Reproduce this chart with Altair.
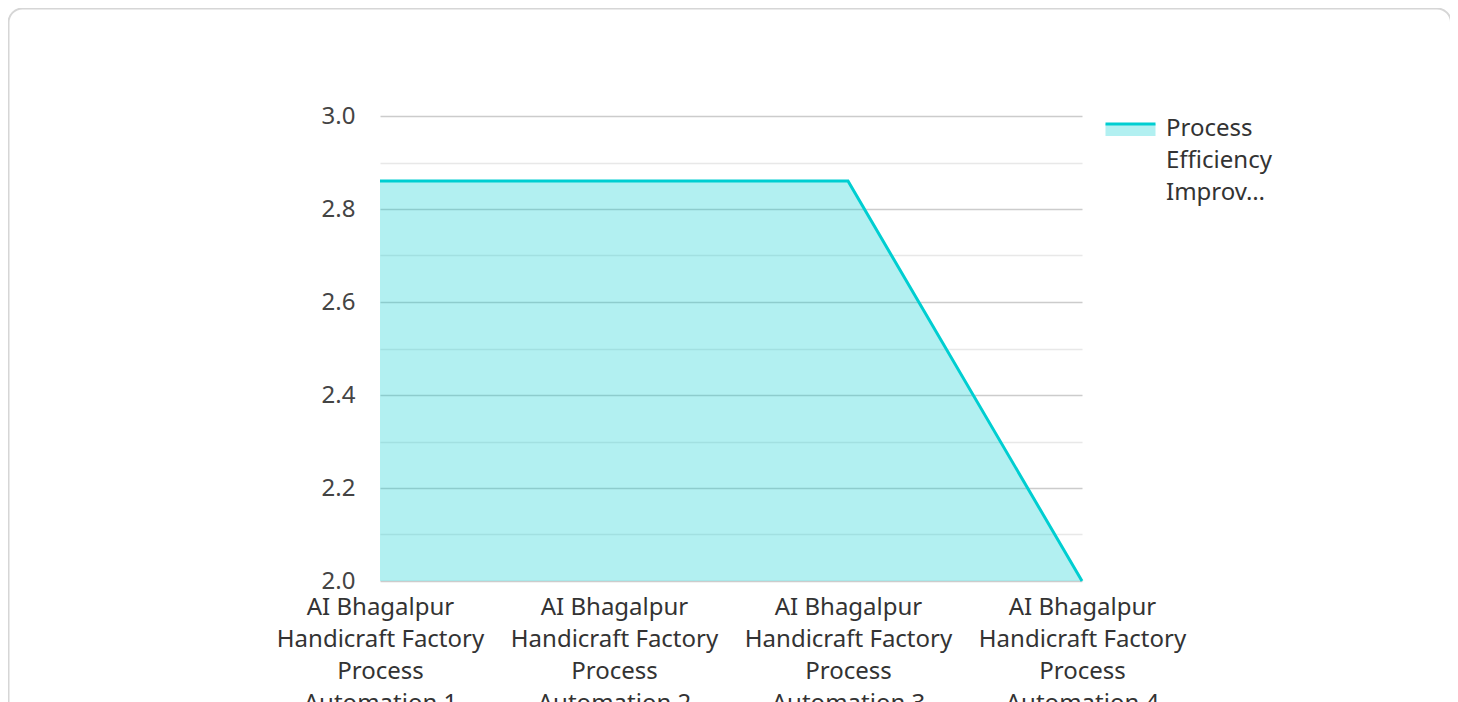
import altair as alt
import pandas as pd

categories = [
    "AI Bhagalpur Handicraft Factory Process Automation 1",
    "AI Bhagalpur Handicraft Factory Process Automation 2",
    "AI Bhagalpur Handicraft Factory Process Automation 3",
    "AI Bhagalpur Handicraft Factory Process Automation 4",
]
values = [2.86, 2.86, 2.86, 2.0]
series_name = "Process Efficiency Improvement (%)"
y_tick_values = [2.0, 2.1, 2.2, 2.3, 2.4, 2.5, 2.6, 2.7, 2.8, 2.9, 3.0]
y_min, y_max = 2.0, 3.0

TEAL = "#00CED1"
FONT = "Noto Sans"
FS = 24

df = pd.DataFrame({"category": categories, "value": values, "series": [series_name] * len(categories)})

x_enc = alt.X(
    "category:N",
    sort=categories,
    scale=alt.Scale(type="point", padding=0),
    axis=alt.Axis(
        title=None,
        labelAngle=0,
        ticks=False,
        domain=False,
        grid=False,
        labelFont=FONT,
        labelFontSize=FS,
        labelColor="#333333",
        labelPadding=14,
        labelLineHeight=32,
        labelBaseline="top",
        labelLimit=400,
        labelExpr="split(replace(replace(replace(datum.label, 'Bhagalpur ', 'Bhagalpur|'), 'Factory ', 'Factory|'), 'Process ', 'Process|'), '|')",
    ),
)

y_enc = alt.Y(
    "value:Q",
    scale=alt.Scale(domain=[y_min, y_max], nice=False, zero=False),
    axis=alt.Axis(
        title=None,
        values=y_tick_values,
        ticks=False,
        domain=False,
        labelFont=FONT,
        labelFontSize=FS,
        labelColor="#444444",
        labelPadding=25,
        labelFlush=False,
        labelExpr="round(datum.value * 10) % 2 == 0 ? format(datum.value, '.1f') : ''",
        gridColor={"condition": {"test": "round(datum.value * 10) % 2 == 0", "value": "#cccccc"}, "value": "#e8e8e8"},
        gridWidth=1.5,
    ),
)

card = alt.Chart(pd.DataFrame({"k": [0]})).mark_rect(
    filled=False, stroke="#d6d6d6", strokeWidth=2, cornerRadius=14
).encode(
    x=alt.value(-371.5), x2=alt.value(1071), y=alt.value(-107.5), y2=alt.value(640)
)

base = alt.Chart(df)

area = base.mark_area(color=TEAL, opacity=0.3).encode(x=x_enc, y=y_enc, y2=alt.datum(y_min))

line = base.mark_line(strokeWidth=3).encode(
    x=x_enc,
    y=y_enc,
    color=alt.Color(
        "series:N",
        scale=alt.Scale(range=[TEAL]),
        legend=alt.Legend(
            title=None,
            orient="none",
            legendX=724,
            legendY=-26,
            padding=0,
            symbolType="M-1,0.3H1V0.78H-1Z",
            symbolSize=2500,
            symbolFillColor="#b2f0f1",
            symbolStrokeWidth=3,
            symbolDash=[50, 400],
            labelFont=FONT,
            labelFontSize=FS,
            labelColor="#333333",
            labelOffset=9,
            labelBaseline="top",
            labelLimit=300,
            labelExpr="['Process', 'Efficiency', 'Improv…']",
        ),
    ),
)

chart = (
    alt.layer(card, area, line)
    .properties(
        width=702,
        height=465,
        padding={"left": 372, "top": 108, "right": 368, "bottom": 121},
        autosize=alt.AutoSizeParams(type="none"),
        background="white",
    )
    .configure(style={"guide-label": {"lineHeight": 32}})
    .configure_view(stroke=None)
)

chart.save("out.html", embed_options={"renderer": "svg", "actions": False})
